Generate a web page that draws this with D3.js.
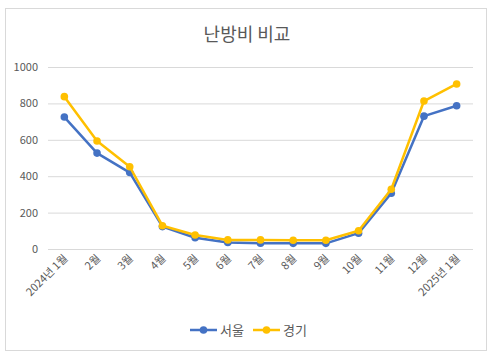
<!DOCTYPE html>
<html><head><meta charset="utf-8">
<script src="https://cdn.jsdelivr.net/npm/d3@7"></script>
<style>body{margin:0;background:#fff}svg{display:block}</style>
</head><body>
<svg id="c" width="494" height="357"></svg>
<script>
const categories = ["2024년 1월","2월","3월","4월","5월","6월","7월","8월","9월","10월","11월","12월","2025년 1월"];
const seoul = [725, 527, 420, 123, 62, 36, 32, 31, 31, 87, 306, 730, 787];
const gyeonggi = [837, 593, 452, 128, 77, 50, 50, 48, 48, 100, 328, 813, 907];
const yTicks = [0, 200, 400, 600, 800, 1000];
const seriesNames = ["서울", "경기"];
const colors = ["#4472C4", "#FFC000"];

const font = "'Noto Sans CJK KR', 'Noto Sans', sans-serif";
const svg = d3.select("#c");
svg.append("rect").attr("x",5.5).attr("y",8.5).attr("width",481).attr("height",342)
  .attr("fill","#fff").attr("stroke","#d9d9d9");

svg.append("text").attr("x",247).attr("y",41).attr("text-anchor","middle")
  .attr("font-family",font).attr("font-size",18).attr("fill","#595959").text("난방비 비교");

const x = d3.scaleBand().domain(categories).range([48, 473]);
const y = d3.scaleLinear().domain([0, 1000]).range([249, 67]);

const gy = svg.append("g").attr("transform","translate(48,0)")
  .call(d3.axisLeft(y).tickValues(yTicks).tickFormat(d3.format("d")).tickSize(-425).tickPadding(10));
gy.select(".domain").remove();
gy.selectAll("line").attr("stroke","#d9d9d9");
gy.selectAll("text").attr("font-family",font).attr("font-size",11).attr("fill","#595959");

const gx = svg.append("g").attr("transform","translate(0,249)")
  .call(d3.axisBottom(x).tickSize(0).tickPadding(0));
gx.select(".domain").remove();
gx.selectAll("text").attr("font-family",font).attr("font-size",11).attr("fill","#595959")
  .attr("text-anchor","end").attr("dy",0)
  .attr("transform","translate(4,10) rotate(-45)");

const data = [seoul, gyeonggi];
const line = d3.line().x((d,i)=>x(categories[i])+x.bandwidth()/2).y(d=>y(d));
data.forEach((s, k) => {
  const g = svg.append("g");
  g.append("path").attr("d", line(s)).attr("fill","none").attr("stroke",colors[k])
    .attr("stroke-width",2.5).attr("stroke-linejoin","round");
  g.selectAll("circle").data(s).join("circle")
    .attr("cx",(d,i)=>x(categories[i])+x.bandwidth()/2).attr("cy",d=>y(d))
    .attr("r",3.8).attr("fill",colors[k]);
});

const leg = svg.append("g");
const legX = [190, 253];
seriesNames.forEach((n,k)=>{
  const g = leg.append("g").attr("transform",`translate(${legX[k]},330)`);
  g.append("line").attr("x1",0).attr("x2",27).attr("stroke",colors[k]).attr("stroke-width",2.5);
  g.append("circle").attr("cx",13.5).attr("r",3.8).attr("fill",colors[k]);
  g.append("text").attr("x",30).attr("y",4.5).attr("font-family",font).attr("font-size",13)
    .attr("fill","#595959").text(n);
});
</script>
</body></html>
